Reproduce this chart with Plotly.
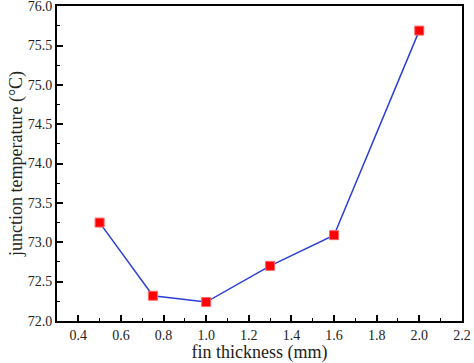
import plotly.graph_objects as go

fin_thickness = [0.5, 0.75, 1.0, 1.3, 1.6, 2.0]
junction_temp = [73.25, 72.32, 72.24, 72.70, 73.09, 75.69]

x_ticks = [0.4, 0.6, 0.8, 1.0, 1.2, 1.4, 1.6, 1.8, 2.0, 2.2]
y_ticks = [72.0, 72.5, 73.0, 73.5, 74.0, 74.5, 75.0, 75.5, 76.0]

fig = go.Figure()
fig.add_trace(go.Scatter(
    x=fin_thickness, y=junction_temp, mode="lines+markers",
    line=dict(color="#2b3fd6", width=1.5),
    marker=dict(symbol="square", size=9, color="#ff0000",
                line=dict(color="#ff6666", width=1)),
    showlegend=False, cliponaxis=False,
))

font = dict(family="Liberation Serif", color="#222222")
fig.update_layout(
    width=474, height=363,
    margin=dict(l=57, r=12, t=6, b=42, autoexpand=False),
    paper_bgcolor="white", plot_bgcolor="white",
    font=dict(size=14, **font),
)
fig.update_xaxes(
    range=[0.3, 2.2005], tickvals=x_ticks, ticktext=[f"{v:.1f}" for v in x_ticks],
    ticks="inside", ticklen=6, tickwidth=1.5, tickcolor="black",
    minor=dict(ticks="inside", ticklen=3, tickwidth=1.2, tickcolor="black", dtick=0.1, tick0=0.3),
    showline=True, linewidth=2, linecolor="black", mirror=True,
    showgrid=False, zeroline=False, automargin=False,
    tickfont=dict(size=14, **font), ticklabeloverflow="allow",
    title=dict(text="fin thickness (mm)", font=dict(size=18, **font), standoff=0),
)
fig.update_yaxes(
    range=[71.999, 76.003], tickvals=y_ticks, ticktext=[f"{v:.1f}" for v in y_ticks],
    ticks="inside", ticklen=6, tickwidth=1.5, tickcolor="black",
    minor=dict(ticks="inside", ticklen=3, tickwidth=1.2, tickcolor="black", dtick=0.25),
    showline=True, linewidth=2, linecolor="black", mirror=True,
    showgrid=False, zeroline=False, automargin=False,
    tickfont=dict(size=14, **font), ticklabeloverflow="allow",
    title=dict(text="junction temperature (°C)", font=dict(size=18, **font), standoff=0),
)
fig.write_html("out.html", config={"displayModeBar": False},
               post_script="document.body.style.margin='0';document.body.style.overflow='hidden';")
